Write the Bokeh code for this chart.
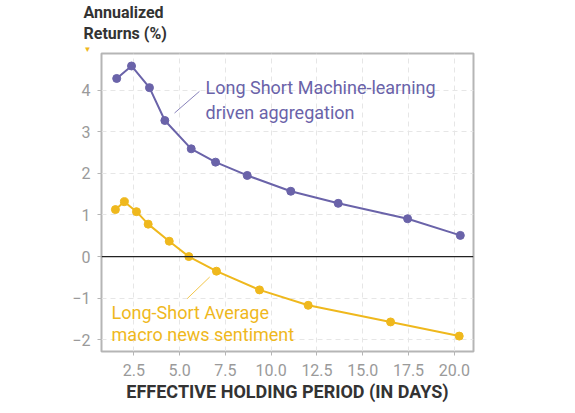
from bokeh.plotting import figure
from bokeh.models import Range1d, FixedTicker, Label, Span, Title
from bokeh.embed import file_html
from bokeh.resources import INLINE

# Data
purple_x = [1.56, 2.37, 3.35, 4.19, 5.63, 6.96, 8.69, 11.07, 13.66, 17.45, 20.33]
purple_y = [4.28, 4.58, 4.06, 3.27, 2.59, 2.27, 1.95, 1.57, 1.28, 0.91, 0.51]
yellow_x = [1.49, 1.98, 2.64, 3.28, 4.43, 5.50, 7.01, 9.36, 12.02, 16.52, 20.27]
yellow_y = [1.13, 1.32, 1.08, 0.78, 0.37, 0.0, -0.35, -0.80, -1.17, -1.57, -1.91]

x_ticks = [2.5, 5.0, 7.5, 10.0, 12.5, 15.0, 17.5, 20.0]
x_tick_labels = ["2.5", "5.0", "7.5", "10.0", "12.5", "15.0", "17.5", "20.0"]
y_ticks = [-2, -1, 0, 1, 2, 3, 4]
y_tick_labels = ["\u22122", "\u22121", "0", "1", "2", "3", "4"]

purple_name = ["Long Short Machine-learning", "driven aggregation"]
yellow_name = ["Long-Short Average", "macro news sentiment"]
y_title = ["Annualized", "Returns (%)"]
x_title = "EFFECTIVE HOLDING PERIOD (IN DAYS)"

PURPLE = "#6a63a9"
YELLOW = "#efb81d"
FONT = "Roboto"

p = figure(width=567, height=405, output_backend="svg", toolbar_location=None,
           title=None,
           x_range=Range1d(0.73, 21.05), y_range=Range1d(-2.28, 4.88),
           min_border_left=101, min_border_top=51, min_border_right=94,
           min_border_bottom=54)

p.outline_line_color = "#b5b5b5"
p.outline_line_width = 2
p.background_fill_color = "white"
p.border_fill_color = "white"

for ax in (p.xaxis[0], p.yaxis[0]):
    ax.axis_line_color = None
    ax.major_tick_line_color = "#b5b5b5"
    ax.major_tick_out = 4
    ax.major_tick_in = 0
    ax.minor_tick_line_color = None
    ax.major_label_text_color = "#9a9a9a"
    ax.major_label_text_font = FONT
    ax.major_label_text_font_size = "16px"

p.xaxis.ticker = FixedTicker(ticks=x_ticks)
p.xaxis.major_label_overrides = {t: l for t, l in zip(x_ticks, x_tick_labels)}
p.xaxis.major_label_standoff = 8
p.xaxis.axis_label = x_title
p.xaxis.axis_label_text_font = FONT
p.xaxis.axis_label_text_font_size = "18px"
p.xaxis.axis_label_text_font_style = "bold"
p.xaxis.axis_label_text_color = "#333333"
p.xaxis.axis_label_standoff = 2
p.yaxis.ticker = FixedTicker(ticks=y_ticks)
p.yaxis.major_label_overrides = {t: l for t, l in zip(y_ticks, y_tick_labels)}
p.yaxis.major_label_standoff = 7

for g in (p.xgrid[0], p.ygrid[0]):
    g.grid_line_color = "#e6e6e6"
    g.grid_line_dash = "5 4"
    g.grid_line_width = 1

p.add_layout(Span(location=0, dimension="width", line_color="#222222", line_width=1.2))

p.line(purple_x, purple_y, line_color=PURPLE, line_width=2)
p.scatter(purple_x, purple_y, size=8, fill_color=PURPLE, line_color=PURPLE)
p.line(yellow_x, yellow_y, line_color=YELLOW, line_width=2)
p.scatter(yellow_x, yellow_y, size=8, fill_color=YELLOW, line_color=YELLOW)

# leader lines
p.line([4.72, 6.08], [3.45, 3.97], line_color=PURPLE, line_width=1, line_alpha=0.8)
p.line([5.41, 6.64], [-1.01, -0.49], line_color=YELLOW, line_width=1, line_alpha=0.8)

def lab(x, y, text, color, size):
    p.add_layout(Label(x=x, y=y, text=text, text_color=color, text_font=FONT,
                       text_font_size=size, text_align="left", text_baseline="middle"))

lab(6.41, 4.07, purple_name[0], PURPLE, "18px")
lab(6.41, 3.47, purple_name[1], PURPLE, "18px")
lab(1.28, -1.34, yellow_name[0], YELLOW, "18px")
lab(1.28, -1.87, yellow_name[1], YELLOW, "18px")

# titles above (first added = closest to the plot)
p.add_layout(Title(text="\u25bc", align="left", offset=-18, standoff=0,
                   text_font_size="8px", text_color=YELLOW,
                   text_font_style="normal"), "above")
p.add_layout(Title(text=y_title[1], align="left", offset=-18, standoff=0,
                   text_font=FONT, text_font_size="16px", text_font_style="bold",
                   text_color="#333333"), "above")
p.add_layout(Title(text=y_title[0], align="left", offset=-18, standoff=0,
                   text_font=FONT, text_font_size="16px", text_font_style="bold",
                   text_color="#333333"), "above")

open("out.html", "w").write(file_html(p, INLINE))
